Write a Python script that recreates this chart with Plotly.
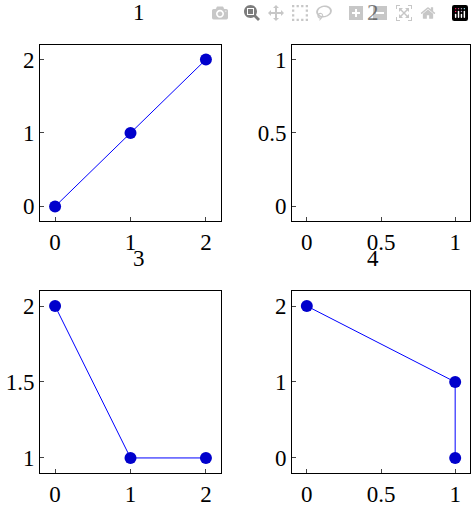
import plotly.graph_objects as go

W, H = 474, 507

# data for the four panels
x1 = [0, 1, 2]
y1 = [0, 1, 2]
x3 = [0, 1, 2]
y3 = [2, 1, 1]
x4 = [0, 1, 1]
y4 = [2, 1, 0]
titles = ["1", "2", "3", "4"]

# panel boxes in pixels: (left, right, top, bottom)
boxes = [(40, 221, 45, 222), (292, 470, 45, 222),
         (40, 221, 292, 475), (292, 470, 292, 475)]
xranges = [[-0.2, 2.2], [-0.1, 1.1], [-0.2, 2.2], [-0.1, 1.1]]
yranges = [[-0.2, 2.2], [-0.1, 1.1], [0.9, 2.1], [-0.2, 2.2]]
xticks = [[0, 1, 2], [0, 0.5, 1], [0, 1, 2], [0, 0.5, 1]]
yticks = [[0, 1, 2], [0, 0.5, 1], [1, 1.5, 2], [0, 1, 2]]

fig = go.Figure()
font = dict(family="Liberation Serif", size=23, color="black")

series = [(x1, y1), None, (x3, y3), (x4, y4)]
layout = {}
anns = []
for i, (l, r, t, b) in enumerate(boxes):
    n = "" if i == 0 else str(i + 1)
    ax = dict(domain=[l / W, r / W], range=xranges[i], tickvals=xticks[i],
              ticks="inside", ticklen=4, showline=True, mirror=True,
              linecolor="black", linewidth=1, showgrid=False, zeroline=False,
              tickfont=font, anchor="y" + n)
    ay = dict(domain=[1 - b / H, 1 - t / H], range=yranges[i], tickvals=yticks[i],
              ticks="inside", ticklen=4, showline=True, mirror=True,
              linecolor="black", linewidth=1, showgrid=False, zeroline=False,
              tickfont=font, anchor="x" + n)
    layout["xaxis" + n] = ax
    layout["yaxis" + n] = ay
    anns.append(dict(text=titles[i], x=(l + r) / 2 / W, y=1 - (t - 32) / H,
                     xref="paper", yref="paper", showarrow=False, font=font,
                     yanchor="middle"))
    if series[i]:
        fig.add_trace(go.Scatter(x=series[i][0], y=series[i][1], mode="lines+markers",
                                 line=dict(color="#0000ff", width=1),
                                 marker=dict(color="#0000cc", size=12),
                                 xaxis="x" + n, yaxis="y" + n, showlegend=False,
                                 cliponaxis=False))
    else:
        fig.add_trace(go.Scatter(x=[], y=[], xaxis="x" + n, yaxis="y" + n,
                                 showlegend=False))

fig.update_layout(**layout, annotations=anns, width=W, height=H,
                  margin=dict(l=0, r=0, t=0, b=0),
                  plot_bgcolor="white", paper_bgcolor="white")
fig.write_html("out.html", post_script="document.body.style.margin='0';")
